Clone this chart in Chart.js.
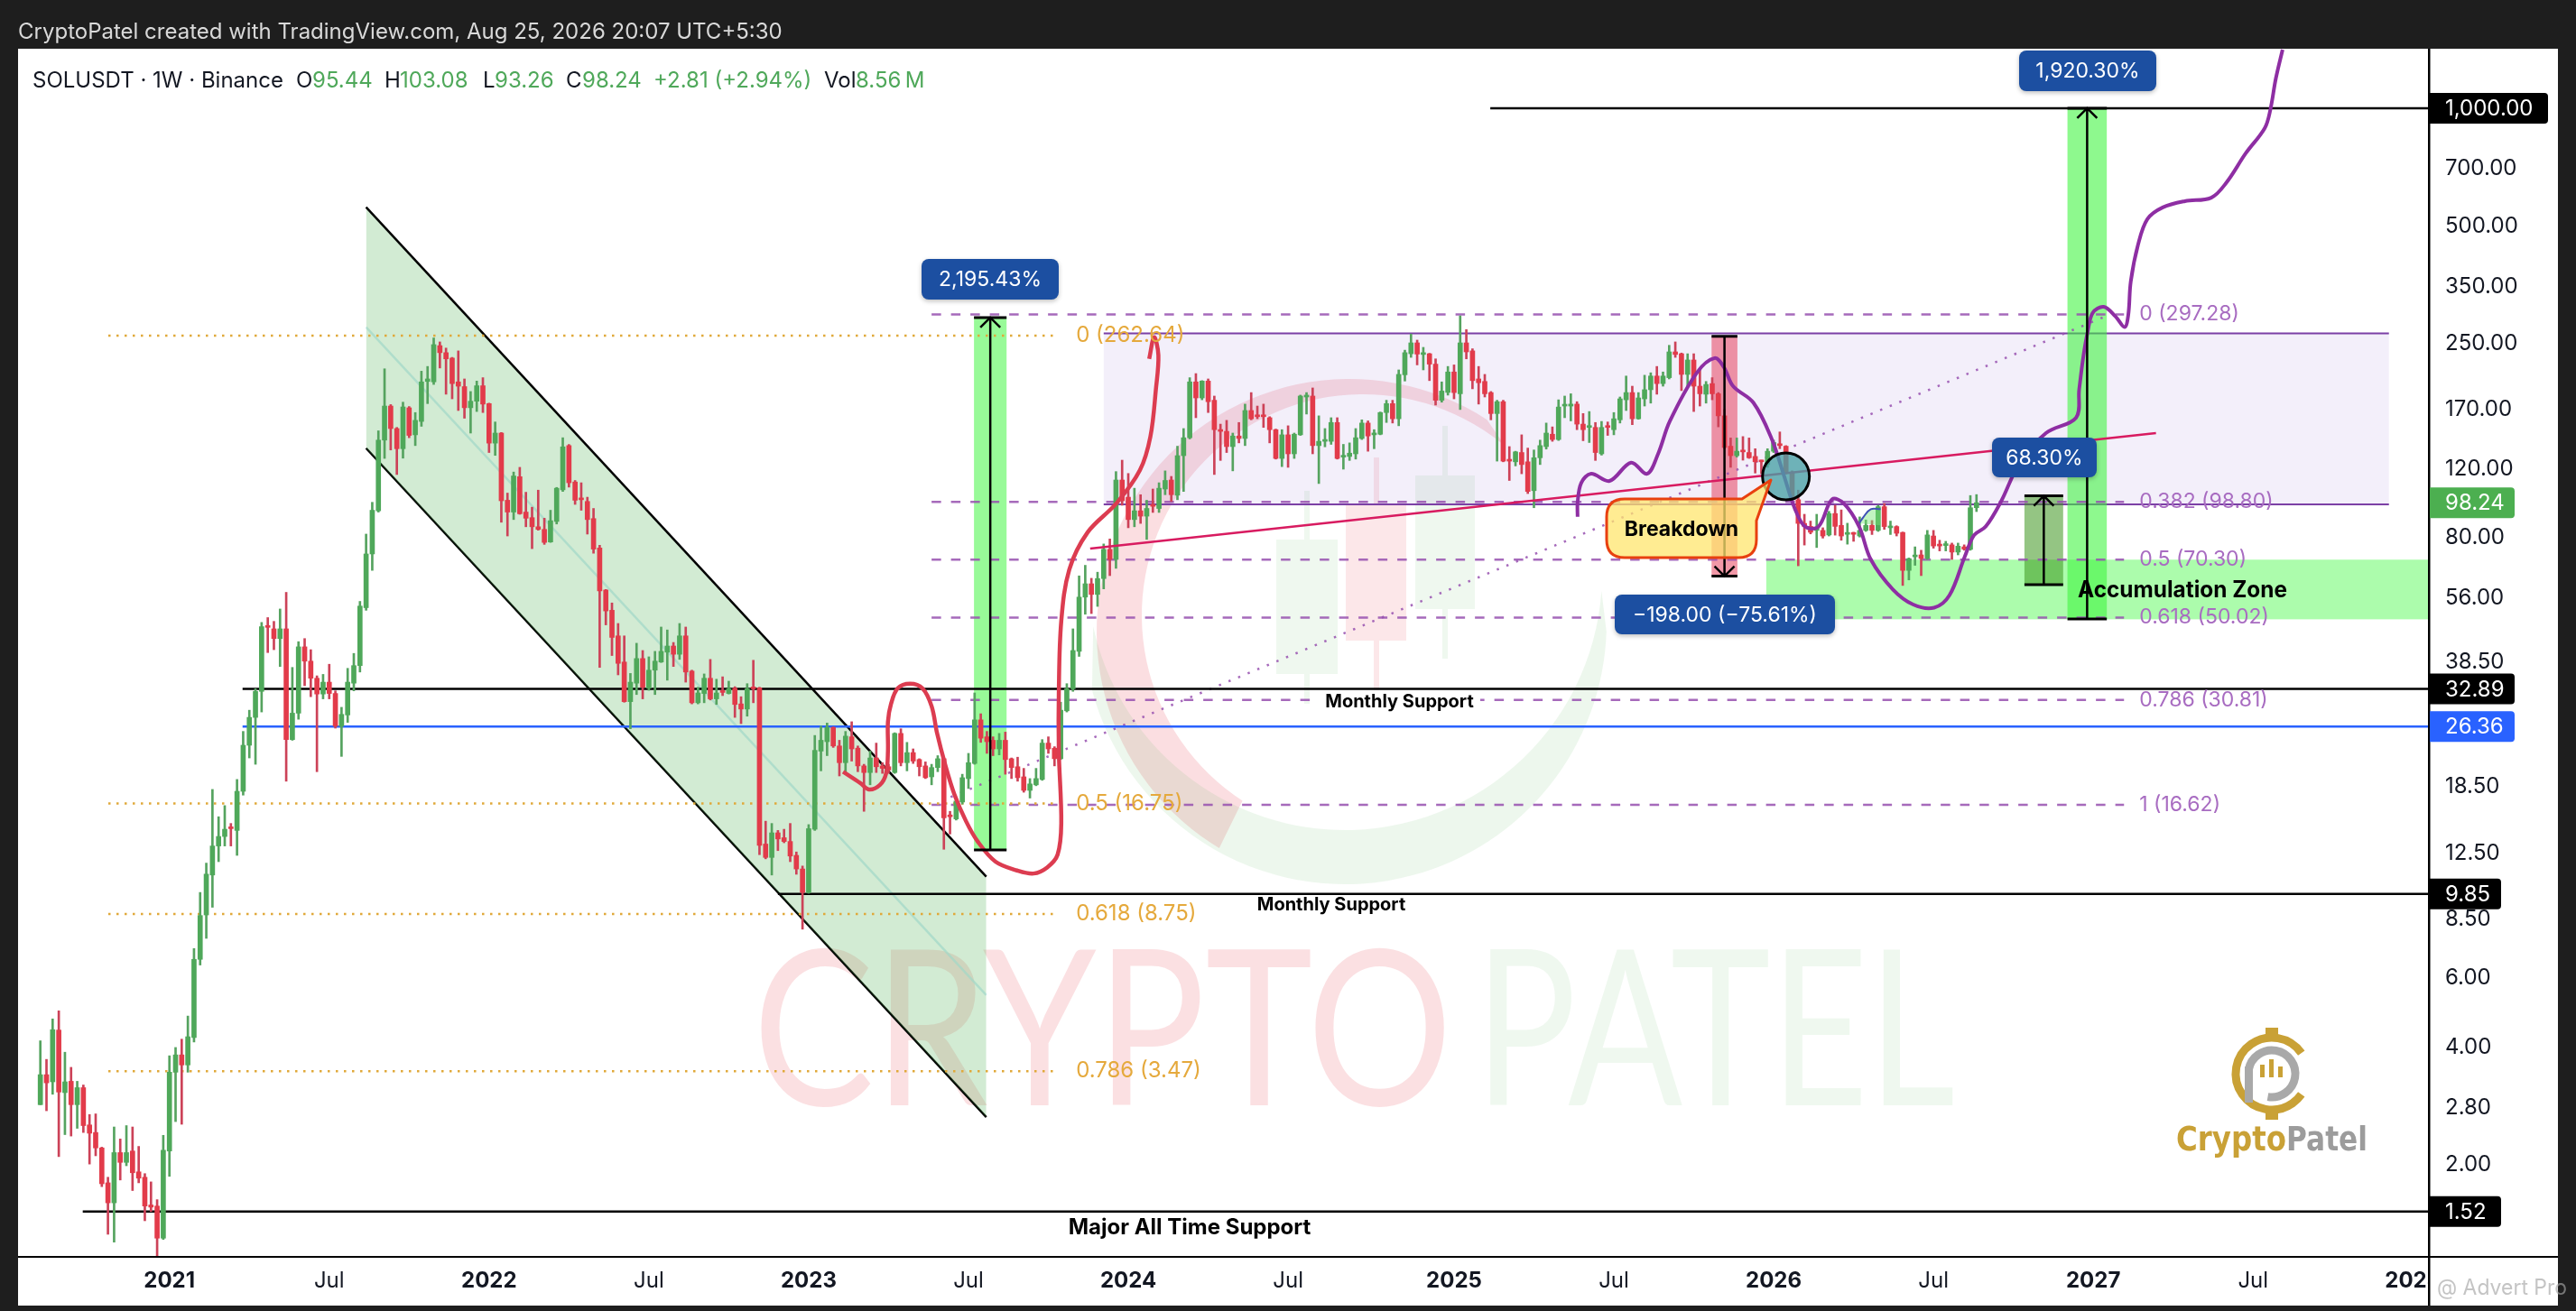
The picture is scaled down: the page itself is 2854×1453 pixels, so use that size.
<!DOCTYPE html>
<html>
<head>
<meta charset="utf-8">
<title>SOLUSDT 1W</title>
<script src="https://cdn.jsdelivr.net/npm/chart.js@4"></script>
<style>
html, body { margin: 0; background: #1e1e1e; }
canvas { display: block; }
</style>
</head>
<body>
<canvas id="chart" width="2854" height="1453"></canvas>
<script>
// weekly candles, one per week from Aug 2020
const opens = [
2.85,3.40,3.26,4.42,3.06,3.27,2.85,3.15,2.53,2.42,2.21,1.80,1.60,2.15,2.03,2.17,1.92,1.86,1.58,1.57,
1.30,2.17,3.45,3.82,3.60,4.23,6.70,8.70,11.0,13.05,13.8,14.6,14.3,18.0,23.6,27.8,32.4,47.6,46.8,44.2,
46.8,24.4,28.5,42.1,38.7,35,31.9,34.2,32,26.4,28.2,34,37.7,53,72.7,93.7,142,173.5,152,135,
171.7,146.5,158.5,200.5,200,247.5,237.5,230,200,194.5,171.8,178.5,195.5,176,139.5,148,99.7,93,114.5,93,
90,85.3,84,78,88,106,137.5,111,100.7,99,89.5,75.3,58.8,52.2,44.9,38.5,30.5,34,39.3,33,
36.7,38.5,40.8,42.3,40.3,44.9,36.5,30.3,32,35,31,32.4,32,33,30.1,29.2,33,33.1,13.2,12.2,
14.1,13.7,13.4,12.35,11.4,9.93,14.4,22.8,24.1,26.2,23.5,21.3,24.8,23.2,20.9,20.1,21.9,20.9,20.8,20.1,
25.3,21.3,22.6,21.7,20.9,19.6,20.7,21.8,15.6,15.3,16.9,19.4,21.2,27.4,24.8,24.3,23.1,24.3,21.8,20.8,
19.6,18.1,18.7,19.3,23.9,23.2,21.8,28.9,32.9,41,56.4,61,57.3,62.9,74.7,70.4,112.3,101.5,89,93.7,
90.8,96.8,95,106.5,112.3,102.7,129.6,144,200,182,201,179.5,151,149.5,136.7,145.5,143.4,169,164.6,163.8,
162,151,127.5,146.5,131,146.5,183,184,137.5,141,141,157.5,128.5,129,131,143.4,157,146.5,147,167,
176,161,208.5,236,251.6,235,236,222,179.5,188,212,186.5,251.6,240,203.5,200.5,187.8,166,178,126,
125,132,125,105.5,128,136.7,147,142.5,173.5,173.5,175.5,156,153,153,131,153.5,151,160,180,187.8,
161,181,191,207,198,205,238.6,236,209,227.5,195,186,198,186.5,163.8,137,129.6,133,132,129,
125.5,123,133,139,137,117.7,100,87,85.5,83.5,83.5,81.3,92.2,86,81.6,82.1,80.8,83.5,86,83.5,
96,84.8,85.4,82.5,66,71.5,72.3,70.8,80.8,77,76.4,76.7,73.5,75.8,74.7,95.44];
const highs = [
4.15,3.72,4.72,4.95,3.88,3.55,3.27,3.20,2.69,2.70,2.22,1.86,2.50,2.33,2.52,2.50,2.23,1.90,1.81,1.63,
2.38,3.80,3.99,4.19,4.80,7.14,9.93,11.8,18.2,15.5,16.55,14.9,19.3,25.6,29.0,32.9,48.6,50,48.9,52.6,
58,37.3,43.4,44.2,41.4,35.5,35.8,38,32.5,29.5,37.1,40.5,55,81.7,98.5,150,216,175,153,177.5,
173,167,213,219,259,253,244,231,240,203.5,189,201,205,176.5,158,148.5,104,117.7,121,104.5,
95.7,105.8,89.7,94,107.5,144,138.4,112,110.5,101.5,95,76.5,59,54.5,48.3,44.9,36,43,41.2,39.7,
41,47.3,46.5,43.2,48.3,47.3,36.7,33.2,35.9,39.1,34.8,35.3,34.4,33.3,31.4,33.9,38.9,33.2,15.1,14.9,
14.3,14.4,14.9,12.6,11.6,14.8,25,26.4,26.9,26.3,24.3,25.6,27.1,23.5,21.1,22.8,23.9,21.3,21.1,25.4,
26,24,23.1,21.8,21.4,21.1,22.2,21.9,16,17.1,19.9,22.5,32.1,28.4,25.6,24.8,25.3,25.5,21.9,22,
20.6,19.4,20.6,24.4,24.8,23.4,30.4,33.9,46.8,63.9,68,63,65.3,77.1,79.4,118,126.2,116.7,107,103,
99.7,106.5,110.5,118.5,114.7,137,152,205,210,201.5,203.5,184,156,159.5,148,157.5,175.5,187.8,173.5,175.5,
163,151.5,151,154.5,148,185,187.8,193,163.8,152,162,162,138.5,139.7,152,160,159,151,167.5,179.5,
179.5,214.6,241,265,255.7,245,236.5,229,200,219,221,295,272,243,219,209,189,179.5,179.5,136.7,
133,146.5,135.5,134,142,157,153.5,180,184,186.5,178,166,168,157.5,158.5,158,167,183,207,195,
187.8,208,211,219,212,248,253,237,236,236,214.6,200.5,205,187.8,170,143.8,143.8,145,143.8,135,
126.2,135,142,149,137.5,118.5,105.8,91.8,88.2,91.8,84.8,93.4,96.8,94.2,87.1,82.6,90.4,88.8,88.5,96.8,
97.8,88.2,85.8,82.7,71,75.8,74.3,83.5,83.5,78.8,78.3,77.5,77.5,76.7,102.5,103.08];
const lows = [
2.85,2.75,3.03,2.10,2.39,2.37,2.48,2.42,2.01,2.11,1.76,1.33,1.27,1.83,1.99,1.72,1.80,1.44,1.52,1.17,
1.29,1.87,2.58,2.54,3.45,4.12,6.48,7.58,9.1,11.9,13.05,13.05,12.35,17.6,21.9,21.1,28.7,40.7,41.4,37.5,
19.1,24.3,27.5,33.5,31.4,20.2,31,31,26.1,22.1,27,32.5,36.3,52.2,66,93,127.5,134,116,127.7,
144,137.5,154,176,197,217,186,181,169,161.5,148,168,167,132,129.8,87.6,80.8,89,91.8,85.3,
75,83.6,76.9,77.8,86.7,105,107.7,97.3,94,81.7,73,37.3,47.9,40,35.7,30.4,26,31.8,31,32.6,
31.8,38.4,34.6,37.5,39.1,34.2,30.1,30.1,30.3,30.8,30,31.6,31.9,27.8,26.8,28,30.3,12.4,12.1,11,
12.7,13.3,11.9,11.05,8,9.88,14.3,20.3,22.2,23.3,19.7,20.1,21.5,20.2,16,18.7,20.1,20,20,20,
20.9,20.3,21.2,19.7,19.4,18.7,20.2,12.8,14,15.2,16.7,18.3,21.1,24,22.5,22.2,22.3,19.9,19.4,19.1,
17.9,17.3,18.6,19.2,22.5,20.9,21.7,28.7,32.4,39.8,51,51.2,53.4,59.2,64,66.8,96.8,84.8,85.3,87,
79.2,92.8,92.8,103,99,100,105,143,162,180,167,116,126,132,118.5,139.7,137.5,160,161,153,
139.7,127,121.5,121,127.5,146,165.5,131,110,136.5,138.5,127,119.7,126,127,142.5,133,135,146.5,157.5,
157,154.5,201,231,221,214.6,201.5,174.5,177.5,185,181,170,229,192,175.5,183,160,125.5,125,112,
122,116.5,103.7,95.4,123,134.7,141,141.7,162,159,151,141.5,140,126,130,146,146.5,157,169,155.5,
160.5,173.5,176.5,186,195,203.5,231,190,195,168,173.5,176.5,180,153.5,135,121,128.5,126.2,127.5,117,
116.5,121,132,135,116.5,99.5,67.8,76.6,81.8,75.5,79.8,80.8,81.2,78.8,77,78.3,80.3,83,81.5,83,
84,81.5,80.8,60.4,62.4,68,64,70.4,75.2,74,74,70.4,72.3,74.3,74.3,93.26];
const closes = [
3.40,3.24,4.43,3.07,3.26,2.85,3.15,2.52,2.41,2.21,1.79,1.60,2.15,2.03,2.15,1.91,1.85,1.57,1.56,1.30,
2.18,3.45,3.82,3.60,4.25,6.70,8.67,11.06,13.05,13.8,14.4,14.45,18.0,23.6,27.8,32.4,47.4,47.2,44.2,46.8,
24.4,28.5,42.1,38.7,35,31.9,34.2,32,26.4,28.3,34.2,37.7,53.5,72.7,94,142,173.5,152,135,172.6,
146,159.5,200,203.5,249,237.5,229,198,195,171.8,178.5,195.5,175.5,139.5,148,99.4,93,115,92.1,89.7,
85.3,84,77.8,88.4,107,136.5,110.5,99.7,100,89,74.8,58.5,52,44.5,38.2,30.5,34.2,39.3,33.2,36.7,
38.7,41,42.3,40.3,44.9,36.3,30.3,32.1,35,31,32.1,32.2,32.9,30,29.2,32.9,32.9,13.1,12.2,14.1,
13.6,13.4,12.3,11.4,9.93,14.45,22.9,24.3,26.2,23.5,21.3,24.9,23.1,20.9,20.1,21.9,20.8,20.6,20.4,25.3,
21.3,22.6,21.5,20.8,19.5,20.7,21.8,15.4,15.5,17,19.5,21.3,27.4,24.6,24.1,23.1,24.3,21.7,20.7,19.5,
18.1,18.8,19.4,23.9,23.1,21.8,29,32.9,41.2,56.4,61,57.3,62.9,74.7,70.4,112.3,99.4,89,93.7,90.8,
95,96.2,107,112,103,129.6,144,200,182,201,178,151,149.5,136.7,145.5,143.4,169,161,163,163,
151,127.5,146.5,131,147,184,185,137.5,141,142,157.5,127.5,129.6,131.5,144,157,145.5,148,167,176,
161,209,237.5,251.6,235.5,237.5,222,179.5,189.5,212,187.8,251.6,238.6,201.5,199,186.5,166,178,125.5,125.5,
132.5,123,105,128,137.5,148,142.5,172.5,175,175.5,156,151,153.5,132,153,153,161,181,187.8,161,
182,191,207,198,207,238.6,235,209,227.5,195,186.5,197,186.5,163.8,136,129.6,133,132.5,128,125,
125,133,140,137.5,117,100,87,85.5,82.6,84.8,80.8,92.2,85.5,80.8,82.1,81.6,83.5,86,83.5,96,
85.4,85.4,82.1,66,70.7,71.9,70.8,81.3,76.2,76.2,77,73.5,76.1,74.8,95.4,98.24];

const xTickWeeks = [21, 47, 73, 99, 125, 151, 177, 203, 230, 256, 282, 308, 334, 360, 386];
const xTickLabels = ['2021','Jul','2022','Jul','2023','Jul','2024','Jul','2025','Jul','2026','Jul','2027','Jul','2028'];
const priceTicks = [700, 500, 350, 250, 170, 120, 80, 56, 38.5, 18.5, 12.5, 8.5, 6, 4, 2.8, 2];

// drawings, as [week, price]
const channelUpper = [[53.0, 559], [153.9, 10.9]];
const channelLower = [[53.0, 135.4], [153.9, 2.65]];
const channelMiddle = [[53.0, 275.8], [153.9, 5.43]];
const pinkTrend = [[170.8, 75], [344.2, 148]];
const dottedTrend = [[148.1, 17.4], [336.6, 296.7]];
const breakdownMark = [[284.0, 114.7]];
const cupArc = [[295.9, 87], [296.6, 90.3], [297.8, 94.6], [299.4, 94.6]];
const cupBase = [[295.9, 87], [299.4, 86]];
const redCurve = [[130.6,20.2],[133.4,18.9],[134.8,18.2],[136.6,18.7],[137.6,20],[137.9,22.8],[137.9,27.1],[138.4,30.1],
[139.5,33],[141.5,33.9],[143.5,33],[145,29.7],[145.9,25.3],[147.2,21.1],[148.7,17.7],[150.6,15.1],[152.5,13.4],[155.4,11.9],
[158.9,11.3],[161.6,11.1],[163.8,11.5],[165.5,12.4],[166.1,14.9],[165.7,22.8],[165.7,32.4],[166.1,49],[167.4,66.3],[170.4,82.6],
[175.1,98],[178.9,119],[180.6,145],[181.5,192],[181.9,234],[181.2,260],[180.4,229]];
const purpleCurve = [[250.1,90.5],[250.1,98.4],[250.7,110.5],[252.3,116.5],[255.3,111.7],[258.8,124.4],[261.4,116.5],[263.2,131],
[265.1,158.6],[269.5,211],[272.4,230],[273.9,218],[275.4,195],[278.7,177],[281.7,142.8],[283.7,115],[285.4,95.3],[287.1,85.4],
[289.3,85.4],[291.5,100.2],[293.4,97.9],[295.9,85.4],[297.8,70.4],[301.4,59],[304.7,54],[308.1,53],[310.6,57],[313.1,71.6],
[314.6,81.2],[316.5,85.4],[319,99],[322,124],[326.3,148],[331.2,162],[331.7,191],[332.4,233],[333.1,269],[333.9,300],[335.7,311],
[337.6,294],[339.1,276],[339.7,297],[340.1,361],[341.3,449],[342.8,521],[345.3,558],[348.9,579],[353.2,591],[355.7,647],[358.8,767],
[361.9,890],[362.8,990],[363.7,1191],[364.8,1412]];

const leftFibLevels = [262.64, 16.75, 8.75, 3.47];
const leftFibLabels = ['0 (262.64)', '0.5 (16.75)', '0.618 (8.75)', '0.786 (3.47)'];
const rightFibLevels = [297.28, 98.80, 70.30, 50.02, 30.81, 16.62];
const rightFibLabels = ['0 (297.28)', '0.382 (98.80)', '0.5 (70.30)', '0.618 (50.02)', '0.786 (30.81)', '1 (16.62)'];
const flatLevels = [1000, 32.89, 26.36, 9.85, 1.52];
const flatStarts = [235.9, 32.9, 32.9, 120, 6.9];

// [first week, last week, start price, end price]
const rangeZone = [173.0, 382.1, 266, 97.3];
const accumulationZone = [280.8, 388.6, 70.3, 49.5];
const measureBoxes = [
  [151.9, 157.2, 12.75, 292],
  [322.8, 329.1, 60.7, 102.3],
  [329.8, 336.2, 49.6, 1000],
  [271.9, 276.1, 261.6, 63.8]
];
const boxColors = ['rgba(50,245,50,0.5)', 'rgba(60,150,30,0.55)', 'rgba(60,245,60,0.58)', 'rgba(230,50,80,0.5)'];

const FONT = 'Inter, "Liberation Sans", sans-serif';
const UP = '#4fa85a', DOWN = '#e23b4a';
const UP_WICK = '#55a35f', DOWN_WICK = '#cc4258';
const AXIS_RIGHT = 388.6;

function pts(list) {
  return list.map(p => ({ x: p[0], y: p[1] }));
}

function lineSet(list, color, width, order, extra) {
  return Object.assign({
    type: 'line', data: pts(list), borderColor: color, borderWidth: width,
    pointRadius: 0, fill: false, tension: 0, order: order
  }, extra || {});
}

const datasets = [];
datasets.push(lineSet(breakdownMark, 'rgba(0,0,0,0)', 0, 0, {
  pointRadius: 26, pointBackgroundColor: 'rgba(72,160,165,0.78)', pointBorderColor: '#000', pointBorderWidth: 3
}));
datasets.push(lineSet(purpleCurve, '#8e2ea3', 4, 1, { tension: 0.35 }));
datasets.push(lineSet(redCurve, '#dc3c50', 4.5, 2, { tension: 0.35 }));
datasets.push(lineSet(pinkTrend, '#d81b60', 2.5, 3));
datasets.push(lineSet(cupArc, '#3f51b5', 2, 3, { tension: 0.4, fill: '+1', backgroundColor: 'rgba(120,230,120,0.45)' }));
datasets.push(lineSet(cupBase, 'rgba(0,0,0,0)', 0, 3));

datasets.push({
  type: 'bar', grouped: false, order: 5, barThickness: 5, minBarLength: 2,
  data: opens.map((o, i) => ({ x: i, y: [o, closes[i]] })),
  backgroundColor: opens.map((o, i) => closes[i] >= o ? UP : DOWN)
});
datasets.push({
  type: 'bar', grouped: false, order: 6, barThickness: 2,
  data: opens.map((o, i) => ({ x: i, y: [lows[i], highs[i]] })),
  backgroundColor: opens.map((o, i) => closes[i] >= o ? UP_WICK : DOWN_WICK)
});

flatLevels.forEach((p, i) => {
  datasets.push(lineSet([[flatStarts[i], p], [AXIS_RIGHT, p]], p === 26.36 ? '#2962ff' : '#000', 2.5, 8));
});
leftFibLevels.forEach(p => {
  datasets.push(lineSet([[11.06, p], [165.2, p]], '#e0a93a', 2.5, 9, { borderDash: [2.5, 6.5] }));
});
rightFibLevels.forEach(p => {
  datasets.push(lineSet([[145, p], [339, p]], 'rgba(150,80,175,0.85)', 2.5, 9, { borderDash: [10.5, 11] }));
});
datasets.push(lineSet(dottedTrend, 'rgba(150,80,175,0.85)', 2.5, 9, { borderDash: [2.5, 9] }));
datasets.push(lineSet(channelUpper, '#000', 2.5, 10, { fill: '+1', backgroundColor: 'rgba(76,175,80,0.25)' }));
datasets.push(lineSet(channelLower, '#000', 2.5, 10));
datasets.push(lineSet(channelMiddle, 'rgba(190,230,240,0.7)', 2.5, 10));

function put(ctx, str, x, y, font, color, align, maxW) {
  ctx.font = font;
  ctx.fillStyle = color;
  ctx.textAlign = align || 'left';
  ctx.textBaseline = 'middle';
  if (maxW) ctx.fillText(str, x, y, maxW); else ctx.fillText(str, x, y);
}

function pill(ctx, x0, y0, x1, y1, color, str) {
  ctx.save();
  ctx.shadowColor = 'rgba(0,0,0,0.25)';
  ctx.shadowBlur = 5;
  ctx.shadowOffsetY = 2;
  ctx.fillStyle = color;
  ctx.beginPath();
  ctx.roundRect(x0, y0, x1 - x0, y1 - y0, 8);
  ctx.fill();
  ctx.restore();
  put(ctx, str, (x0 + x1) / 2, (y0 + y1) / 2 + 1, '400 23px ' + FONT, '#fff', 'center');
}

function crescent(ctx, c0, c1, a0, a1, a2, a3, color) {
  ctx.fillStyle = color;
  ctx.beginPath();
  ctx.arc(c0[0], c0[1], c0[2], a0, a1, true);
  ctx.arc(c1[0], c1[1], c1[2], a2, a3, false);
  ctx.closePath();
  ctx.fill();
}

function drawWatermark(ctx) {
  const rad = Math.PI / 180;
  crescent(ctx, [1495, 700, 280], [1510, 682, 245], -57 * rad, 121 * rad, 123 * rad, -50 * rad, 'rgba(230,60,75,0.17)');
  crescent(ctx, [1490, 690, 290], [1490, 635, 285], 165 * rad, 2 * rad, 4 * rad, 168 * rad, 'rgba(76,175,80,0.1)');
  // the faint candles in the middle of the logo
  const pale = [[1448, 1414, 1482, 598, 747, 544, 780, 'rgba(76,175,80,0.09)'],
                [1525, 1491, 1558, 558, 710, 507, 790, 'rgba(230,60,75,0.12)'],
                [1601, 1568, 1634, 527, 675, 472, 730, 'rgba(76,175,80,0.09)']];
  pale.forEach(c => {
    ctx.fillStyle = c[7];
    ctx.fillRect(c[1], c[3], c[2] - c[1], c[4] - c[3]);
    ctx.fillRect(c[0] - 3, c[5], 6, c[3] - c[5]);
    ctx.fillRect(c[0] - 3, c[4], 6, c[6] - c[4]);
  });
  put(ctx, 'CRYPTO', 834, 1148, '400 240px Lato, ' + FONT, 'rgba(230,60,75,0.16)', 'left', 775);
  put(ctx, 'PATEL', 1634, 1148, '400 240px Lato, ' + FONT, 'rgba(76,175,80,0.09)', 'left', 532);
}

function drawLogo(ctx) {
  const rad = Math.PI / 180, cx = 2517, cy = 1190;
  ctx.lineCap = 'butt';
  ctx.strokeStyle = '#c9a136';
  ctx.lineWidth = 9;
  ctx.beginPath();
  ctx.arc(cx, cy, 40, -35 * rad, 35 * rad, true);
  ctx.stroke();
  ctx.fillStyle = '#c9a136';
  ctx.fillRect(cx - 7, cy - 51, 14, 8);
  ctx.fillRect(cx - 7, cy + 43, 14, 8);
  ctx.strokeStyle = '#a9a9a9';
  ctx.lineWidth = 9;
  ctx.beginPath();
  ctx.arc(cx, cy, 26, 100 * rad, 190 * rad, true);
  ctx.stroke();
  ctx.fillStyle = '#a9a9a9';
  ctx.fillRect(cx - 30, cy - 8, 9, 40);
  ctx.fillStyle = '#c9a136';
  ctx.fillRect(cx - 13, cy - 10, 5, 14);
  ctx.fillRect(cx - 3, cy - 16, 5, 20);
  ctx.fillRect(cx + 7, cy - 8, 5, 12);
  put(ctx, 'Crypto', 2411, 1265, 'bold 38px "DejaVu Sans"', '#c9a136', 'left', 122);
  put(ctx, 'Patel', 2533, 1265, 'bold 38px "DejaVu Sans"', '#9c9c9c', 'left', 90);
}

const annotations = {
  id: 'annotations',
  beforeDraw(chart) {
    const ctx = chart.ctx;
    ctx.save();
    ctx.fillStyle = '#fff';
    ctx.fillRect(20, 54, 2814, 1393);
    ctx.restore();
  },
  beforeDatasetsDraw(chart) {
    const ctx = chart.ctx, x = chart.scales.x, y = chart.scales.y;
    const box = (z, color) => {
      const x0 = x.getPixelForValue(z[0]), x1 = x.getPixelForValue(z[1]);
      const y0 = y.getPixelForValue(z[2]), y1 = y.getPixelForValue(z[3]);
      ctx.fillStyle = color;
      ctx.fillRect(x0, y0, x1 - x0, y1 - y0);
    };
    ctx.save();
    drawWatermark(ctx);
    drawLogo(ctx);
    box(rangeZone, 'rgba(120,80,200,0.09)');
    const ry0 = y.getPixelForValue(rangeZone[2]), ry1 = y.getPixelForValue(rangeZone[3]);
    const rx0 = x.getPixelForValue(rangeZone[0]), rx1 = x.getPixelForValue(rangeZone[1]);
    ctx.fillStyle = '#7b3fa5';
    ctx.fillRect(rx0, ry0 - 1, rx1 - rx0, 2);
    ctx.fillRect(rx0, ry1 - 1, rx1 - rx0, 2);
    box(accumulationZone, 'rgba(90,250,90,0.5)');
    measureBoxes.forEach((m, i) => box(m, boxColors[i]));
    ctx.restore();
  },
  afterDatasetsDraw(chart) {
    const ctx = chart.ctx, x = chart.scales.x, y = chart.scales.y;
    ctx.save();
    // ruler boxes: end bars, shaft, open arrow head
    ctx.strokeStyle = '#000';
    measureBoxes.forEach(m => {
      const x0 = x.getPixelForValue(m[0]), x1 = x.getPixelForValue(m[1]), mid = (x0 + x1) / 2;
      const ya = y.getPixelForValue(m[2]), yb = y.getPixelForValue(m[3]);
      const dir = yb < ya ? 1 : -1;
      ctx.lineWidth = 3;
      ctx.beginPath();
      ctx.moveTo(x0, ya); ctx.lineTo(x1, ya);
      ctx.moveTo(x0, yb); ctx.lineTo(x1, yb);
      ctx.stroke();
      ctx.lineWidth = 2.5;
      ctx.beginPath();
      ctx.moveTo(mid, ya); ctx.lineTo(mid, yb);
      ctx.moveTo(mid - 11, yb + dir * 11); ctx.lineTo(mid, yb); ctx.lineTo(mid + 11, yb + dir * 11);
      ctx.stroke();
    });

    const leftX = x.getPixelForValue(168.5), rightX = x.getPixelForValue(341.5);
    leftFibLevels.forEach((p, i) => put(ctx, leftFibLabels[i], leftX, y.getPixelForValue(p), '400 24px ' + FONT, '#e5a93c'));
    rightFibLevels.forEach((p, i) => put(ctx, rightFibLabels[i], rightX, y.getPixelForValue(p), '400 23px ' + FONT, '#a86cc1'));

    const note = (str, x0, x1, yc, font) => {
      ctx.fillStyle = '#fff';
      ctx.fillRect(x0 - 4, yc - 13, x1 - x0 + 8, 26);
      put(ctx, str, (x0 + x1) / 2, yc, font, '#000', 'center');
    };
    note('Monthly Support', 1465, 1636, 778, 'bold 20px ' + FONT);
    put(ctx, 'Monthly Support', 1475, 1003, 'bold 20px ' + FONT, '#000', 'center');
    put(ctx, 'Major All Time Support', 1318, 1361, 'bold 24px ' + FONT, '#000', 'center');
    put(ctx, 'Accumulation Zone', 2418, 654, 'bold 25px ' + FONT, '#000', 'center', 232);

    // callout
    ctx.fillStyle = 'rgba(255,230,110,0.75)';
    ctx.strokeStyle = '#e8400f';
    ctx.lineWidth = 3;
    ctx.lineJoin = 'round';
    ctx.beginPath();
    ctx.moveTo(1800, 553);
    ctx.lineTo(1930, 553);
    ctx.lineTo(1962, 532);
    ctx.lineTo(1946, 577);
    ctx.lineTo(1946, 598);
    ctx.quadraticCurveTo(1946, 618, 1926, 618);
    ctx.lineTo(1800, 618);
    ctx.quadraticCurveTo(1780, 618, 1780, 598);
    ctx.lineTo(1780, 573);
    ctx.quadraticCurveTo(1780, 553, 1800, 553);
    ctx.closePath();
    ctx.fill();
    ctx.stroke();
    put(ctx, 'Breakdown', 1863, 587, 'bold 23px ' + FONT, '#000', 'center');

    pill(ctx, 1021, 287, 1173, 332, '#1c4fa1', '2,195.43%');
    pill(ctx, 2207, 485, 2323, 529, '#1c4fa1', '68.30%');
    pill(ctx, 2237, 56, 2389, 101, '#1c4fa1', '1,920.30%');
    pill(ctx, 1789, 659, 2033, 703, '#1c4fa1', '\u2212198.00 (\u221275.61%)');

    // the last year label stops at the price axis
    ctx.fillStyle = '#fff';
    ctx.fillRect(2692, 1394, 142, 53);
    ctx.restore();
  },
  afterDraw(chart) {
    const ctx = chart.ctx, y = chart.scales.y;
    ctx.save();
    ctx.fillStyle = '#000';
    ctx.fillRect(20, 1392, 2814, 2);
    ctx.fillRect(2690, 54, 2.5, 1393);

    const badges = [[1000, '1,000.00', '#000', 2823], [32.89, '32.89', '#000', 2786], [26.36, '26.36', '#2962ff', 2786],
                    [9.85, '9.85', '#000', 2771], [1.52, '1.52', '#000', 2771], [98.24, '98.24', '#4caf50', 2786]];
    badges.forEach(b => {
      const yc = y.getPixelForValue(b[0]);
      ctx.fillStyle = b[2];
      ctx.beginPath();
      ctx.roundRect(2692, yc - 17, b[3] - 2692, 34, [0, 4, 4, 0]);
      ctx.fill();
      put(ctx, b[1], 2709, yc + 1, '400 24px ' + FONT, '#fff');
    });

    put(ctx, 'CryptoPatel created with TradingView.com, Aug 25, 2026 20:07 UTC+5:30', 20, 36, '400 24px ' + FONT, '#d9d9d9');
    const header = [['SOLUSDT \u00b7 1W \u00b7 Binance', '#131722', 36], ['O', '#131722', 328], ['95.44', UP, 346], ['H', '#131722', 426],
      ['103.08', UP, 443], ['L', '#131722', 535], ['93.26', UP, 548], ['C', '#131722', 627], ['98.24', UP, 645],
      ['+2.81 (+2.94%)', UP, 724], ['Vol', '#131722', 913], ['8.56\u2009M', UP, 948]];
    header.forEach(h => put(ctx, h[0], h[2], 90, '400 24px ' + FONT, h[1]));

    put(ctx, '@ Advert Pro', 2700, 1428, '400 24px ' + FONT, 'rgba(165,165,165,0.65)', 'left', 144);
    ctx.restore();
  }
};

new Chart(document.getElementById('chart'), {
  type: 'bar',
  data: { datasets: datasets },
  plugins: [annotations],
  options: {
    responsive: false,
    animation: false,
    layout: { autoPadding: false, padding: { left: 21, top: 54, right: 20, bottom: 6 } },
    plugins: { legend: { display: false }, tooltip: { enabled: false }, title: { display: false } },
    scales: {
      x: {
        type: 'linear', offset: false, min: -3.48, max: AXIS_RIGHT,
        grid: { display: false }, border: { display: false },
        afterBuildTicks(scale) { scale.ticks = xTickWeeks.map(v => ({ value: v })); },
        afterFit(scale) { scale.height = 54; scale.paddingLeft = 0; scale.paddingRight = 0; },
        ticks: {
          autoSkip: false, maxRotation: 0, minRotation: 0, padding: 4, color: '#131722',
          callback: v => xTickLabels[xTickWeeks.indexOf(v)],
          font: c => ({
            family: FONT, size: 24,
            weight: c.tick && xTickLabels[xTickWeeks.indexOf(c.tick.value)] !== 'Jul' ? 'bold' : 'normal'
          })
        }
      },
      y: {
        type: 'logarithmic', position: 'right', z: 1, min: 1.1645, max: 1419,
        grid: { display: false, drawTicks: false }, border: { display: false },
        afterBuildTicks(scale) { scale.ticks = priceTicks.map(v => ({ value: v })); },
        afterFit(scale) { scale.width = 143; scale.paddingTop = 0; scale.paddingBottom = 0; },
        ticks: {
          autoSkip: false, padding: 18, color: '#131722', font: { family: FONT, size: 24 },
          callback: v => Number(v).toFixed(2)
        }
      }
    }
  }
});
</script>
</body>
</html>
